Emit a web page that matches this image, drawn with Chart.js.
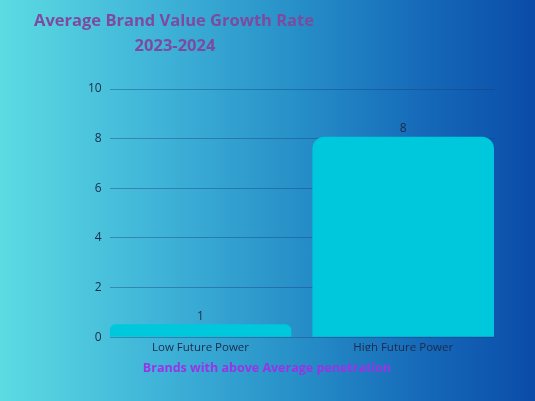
<!DOCTYPE html>
<html>
<head>
<meta charset="utf-8">
<script src="https://cdn.jsdelivr.net/npm/chart.js@4"></script>
<style>
  html, body { margin: 0; padding: 0; }
  body {
    width: 535px; height: 401px; overflow: hidden;
    background: linear-gradient(90deg, #5cdbe2 0%, #3fb3d8 30%, #2790c8 55%, #1568b8 80%, #0a4ca8 100%);
  }
  canvas { display: block; }
</style>
</head>
<body>
<canvas id="chart" width="535" height="401"></canvas>
<script>
const categories = ['Low Future Power', 'High Future Power'];
const growthValues = [0.52, 8.08];
const yTicks = [0, 2, 4, 6, 8, 10];
const titleLines = ['Average Brand Value Growth Rate', '2023-2024'];
const xCaption = 'Brands with above Average penetration';

const textColor = '#1c2a4a';

// titles + value labels painted on top of the chart
const overlay = {
  id: 'overlay',
  afterDatasetsDraw(chart) {
    const { ctx } = chart;
    ctx.save();
    ctx.textAlign = 'center';
    ctx.textBaseline = 'middle';
    ctx.fillStyle = textColor;
    ctx.font = '12px "Open Sans"';
    chart.getDatasetMeta(0).data.forEach((bar, i) => {
      ctx.fillText(String(Math.round(growthValues[i])), bar.x, bar.y - 8);
    });

    ctx.fillStyle = '#7d4a9f';
    ctx.font = 'bold 16.5px "Open Sans"';
    ctx.fillText(titleLines[0], 174, 21);
    ctx.fillText(titleLines[1], 175, 46);

    ctx.fillStyle = '#9a33e6';
    ctx.font = 'bold 12.5px "Open Sans"';
    ctx.fillText(xCaption, 267, 368);
    ctx.restore();
  }
};

new Chart(document.getElementById('chart'), {
  type: 'bar',
  data: {
    datasets: [{
      data: growthValues.map((v, i) => ({ x: i, y: v })),
      backgroundColor: '#00c8dc',
      borderRadius: { topLeft: 12, topRight: 12, bottomLeft: 0, bottomRight: 0 },
      borderSkipped: 'bottom',
      barPercentage: 1,
      categoryPercentage: 0.896,
    }],
  },
  options: {
    responsive: false,
    animation: false,
    layout: { padding: { top: 89, left: 80, right: 40, bottom: 50 } },
    plugins: { legend: { display: false }, title: { display: false }, tooltip: { enabled: false } },
    scales: {
      x: {
        type: 'linear',
        offset: false,
        min: -0.448,
        max: 1.453,
        afterBuildTicks: (axis) => { axis.ticks = categories.map((c, i) => ({ value: i })); },
        grid: { display: false },
        border: { display: false },
        ticks: {
          color: textColor,
          font: { family: 'Open Sans', size: 11.5 },
          padding: -4,
          maxRotation: 0,
          autoSkip: false,
          callback: (value) => categories[value],
        },
      },
      y: {
        min: 0,
        max: 10,
        afterBuildTicks: (axis) => { axis.ticks = yTicks.map((v) => ({ value: v })); },
        grid: { color: 'rgba(25, 60, 120, 0.4)', drawTicks: false, lineWidth: 1 },
        border: { display: false },
        ticks: { color: textColor, font: { family: 'Open Sans', size: 12 }, padding: 8 },
      },
    },
  },
  plugins: [overlay],
});
</script>
</body>
</html>
